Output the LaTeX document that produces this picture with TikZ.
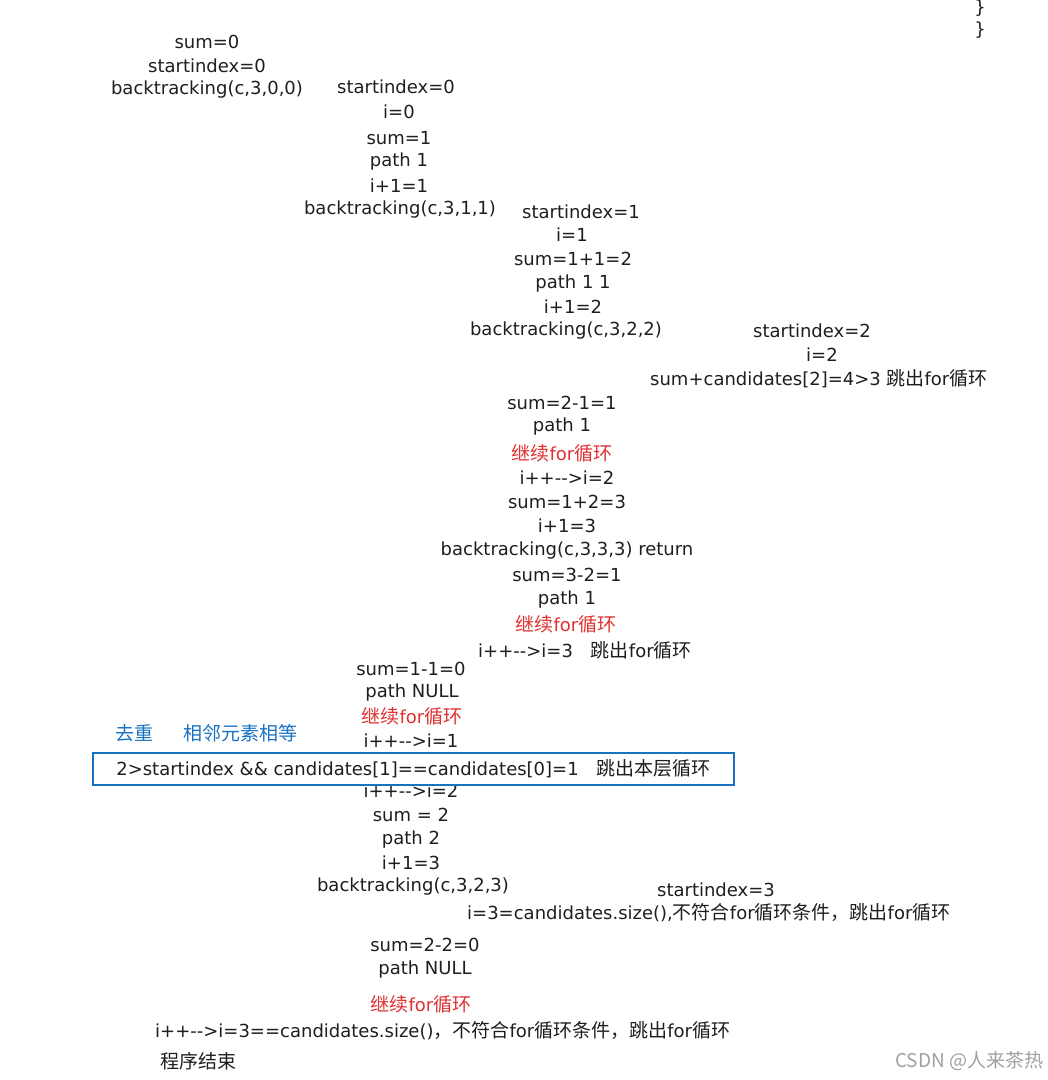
\documentclass[tikz,border=0pt]{standalone}
\usepackage{fontspec}
\newfontfamily\hand{DejaVu Sans}
\newfontfamily\zhfont{Noto Sans CJK SC}
\newcommand{\zh}[1]{{\zhfont\fontsize{19}{22}\selectfont #1}}
\newcommand{\dd}{-\kern0pt-}
\definecolor{ink}{HTML}{1E1E1E}
\definecolor{inkred}{HTML}{E03131}
\definecolor{inkblue}{HTML}{1971C2}
\definecolor{wmgray}{HTML}{A0A0A0}

\begin{document}
\begin{tikzpicture}[x=1pt, y=-1pt,
        line/.style={font=\hand\fontsize{18}{21}\selectfont, text=ink, inner sep=0pt},
        warn/.style={line, text=inkred},
        note/.style={line, text=inkblue, anchor=west},
        checkbox/.style={draw=inkblue, line width=1.4pt, fill=white,
            minimum width=641pt, minimum height=32pt, inner sep=0pt},
    ]
    \useasboundingbox (0,0) rectangle (1048,1080);

    % top level call
    \node[line] (brace1) at (980,8) {\}};
    \node[line] (brace2) at (980,30) {\}};
    \node[line] (sum0) at (207,42) {sum=0};
    \node[line] (start0) at (207,66) {startindex=0};
    \node[line] (call0) at (207,90) {backtracking(c,3,0,0)};

    % first level
    \node[line] (startA) at (396,87) {startindex=0};
    \node[line] (iA) at (399,112) {i=0};
    \node[line] (sumA) at (399,138) {sum=1};
    \node[line] (pathA) at (399,162) {path 1};
    \node[line] (nextA) at (399,186) {i+1=1};
    \node[line] (callA) at (400,210) {backtracking(c,3,1,1)};

    % second level
    \node[line] (startB) at (581,212) {startindex=1};
    \node[line] (iB) at (572,235) {i=1};
    \node[line] (sumB) at (573,259) {sum=1+1=2};
    \node[line] (pathB) at (573,284) {path 1 1};
    \node[line] (nextB) at (573,307) {i+1=2};
    \node[line] (callB) at (566,331) {backtracking(c,3,2,2)};

    % third level
    \node[line] (startC) at (812,331) {startindex=2};
    \node[line] (iC) at (822,355) {i=2};
    \node[line, anchor=west] (stopC) at (650,379) {sum+candidates[2]=4>3 \zh{跳出}for\zh{循环}};

    % back in second level
    \node[line] (undoB) at (562,403) {sum=2-1=1};
    \node[line] (pathB2) at (562,427) {path 1};
    \node[warn] (goonB) at (562,453) {\zh{继续}for\zh{循环}};
    \node[line] (incB) at (567,478) {i++\dd>i=2};
    \node[line] (sumB2) at (567,502) {sum=1+2=3};
    \node[line] (nextB2) at (567,526) {i+1=3};
    \node[line] (callB2) at (567,551) {backtracking(c,3,3,3) return};
    \node[line] (undoB2) at (567,575) {sum=3-2=1};
    \node[line] (pathB3) at (567,600) {path 1};
    \node[warn] (goonB2) at (566,624) {\zh{继续}for\zh{循环}};
    \node[line, anchor=west] (incB2) at (478,650) {i++\dd>i=3\quad\zh{跳出}for\zh{循环}};

    % back in first level
    \node[line] (undoA) at (411,669) {sum=1-1=0};
    \node[line] (pathA2) at (412,693) {path NULL};
    \node[warn] (goonA) at (412,716) {\zh{继续}for\zh{循环}};
    \node[note] (dedup) at (115,733) {\zh{去重}};
    \node[note] (dedupwhy) at (183,733) {\zh{相邻元素相等}};
    \node[line] (incA) at (411,741) {i++\dd>i=1};
    \node[line] (incA2) at (411,791) {i++\dd>i=2};
    \node[checkbox, font=\hand\fontsize{18}{21}\selectfont, text=ink] (skip) at (413.5,769)
        {2>startindex \&\& candidates[1]==candidates[0]=1\quad\zh{跳出本层循环}};
    \node[line] (sumA2) at (411,815) {sum = 2};
    \node[line] (pathA3) at (411,840) {path 2};
    \node[line] (nextA2) at (411,863) {i+1=3};
    \node[line] (callA2) at (413,887) {backtracking(c,3,2,3)};

    % third level again
    \node[line] (startD) at (716,890) {startindex=3};
    \node[line, anchor=west] (stopD) at (467,913)
        {i=3=candidates.size(),\zh{不符合}for\zh{循环条件，跳出}for\zh{循环}};

    % back in first level, loop ends
    \node[line] (undoA2) at (425,945) {sum=2-2=0};
    \node[line] (pathA4) at (425,970) {path NULL};
    \node[warn] (goonA2) at (421,1004) {\zh{继续}for\zh{循环}};
    \node[line, anchor=west] (incA3) at (155,1031)
        {i++\dd>i=3==candidates.size()\zh{，不符合}for\zh{循环条件，跳出}for\zh{循环}};
    \node[line, anchor=west] (done) at (160,1061) {\zh{程序结束}};
    \node[line, anchor=west, text=wmgray] (mark) at (895,1061) {\zh{CSDN @人来茶热}};
\end{tikzpicture}
\end{document}
